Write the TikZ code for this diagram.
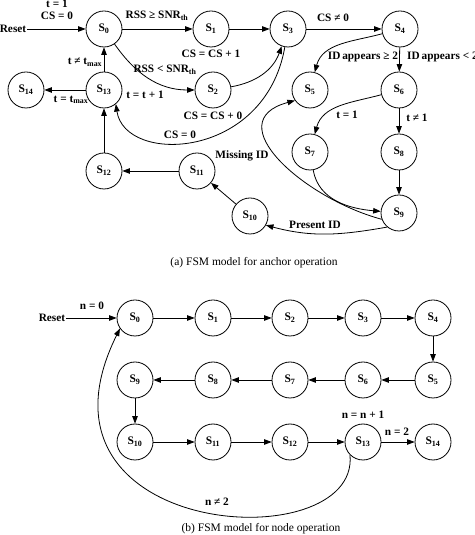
\documentclass[tikz,border=0pt]{standalone}
\usepackage{fontspec}
\setmainfont{Liberation Serif}
\usetikzlibrary{arrows.meta}

\begin{document}
\begin{tikzpicture}[
      x=1pt,y=1pt,
      state/.style={draw, circle, minimum size=36pt, inner sep=0pt, line width=0.8pt, font=\bfseries\fontsize{11.5}{12}\selectfont},
      trans/.style={draw, line width=0.8pt, -{Triangle[length=7.5pt,width=5.5pt]}},
      txt/.style={font=\bfseries\fontsize{11.3}{12}\selectfont, inner sep=1pt},
      caption/.style={font=\fontsize{11.5}{13}\selectfont}
    ]
      \useasboundingbox (0,0) rectangle (474,535);
      % (a) anchor operation
      \node[state] (a0) at (104,506) {S\textsubscript{0}};
      \node[state] (a1) at (211,506) {S\textsubscript{1}};
      \node[state] (a2) at (213,445) {S\textsubscript{2}};
      \node[state] (a3) at (288,506) {S\textsubscript{3}};
      \node[state] (a4) at (400,506) {S\textsubscript{4}};
      \node[state] (a5) at (310,445) {S\textsubscript{5}};
      \node[state] (a6) at (399,445) {S\textsubscript{6}};
      \node[state] (a7) at (310,383) {S\textsubscript{7}};
      \node[state] (a8) at (399,383) {S\textsubscript{8}};
      \node[state] (a9) at (399,322) {S\textsubscript{9}};
      \node[state] (a10) at (250,319) {S\textsubscript{10}};
      \node[state] (a11) at (197,364) {S\textsubscript{11}};
      \node[state] (a12) at (104,364) {S\textsubscript{12}};
      \node[state] (a13) at (104,445) {S\textsubscript{13}};
      \node[state] (a14) at (26,445) {S\textsubscript{14}};
      \node[txt] (reseta) at (13,506) {Reset};
      \node[txt, align=center] (inita) at (57,525) {t = 1\\CS = 0};
      \draw[trans] (reseta) -- (a0);
      \draw[trans] (a0) -- (a1);
      \draw[trans] (a1) -- (a3);
      \draw[trans] (a3) -- (a4);
      \draw[trans] (a4) -- (a6);
      \draw[trans] (a6) -- (a8);
      \draw[trans] (a8) -- (a9);
      \draw[trans] (a10) -- (a11);
      \draw[trans] (a11) -- (a12);
      \draw[trans] (a12) -- (a13);
      \draw[trans] (a13) -- (a0);
      \draw[trans] (a13) -- (a14);
      \draw[trans] (a0) to[out=-55,in=180] (a2);
      \draw[trans] (a2) to[out=10,in=-110] (a3);
      \draw[trans] (a3.-100) .. controls (265,375) and (125,370) .. (a13.-50);
      \draw[trans] (a4) to[out=195,in=75] (a5);
      \draw[trans] (a6) to[out=195,in=75] (a7);
      \draw[trans] (a7) to[out=-80,in=175] (a9);
      \draw[trans] (a9.200) to[out=165,in=195,looseness=1.4] (a5.215);
      \draw[trans] (a9.230) to[out=190,in=-15] (a10.-30);
      \node[txt] (rssge) at (157,519) {RSS ≥ SNR\textsubscript{th}};
      \node[txt] (csinc) at (211,481) {CS = CS + 1};
      \node[txt] (rsslt) at (165,465) {RSS < SNR\textsubscript{th}};
      \node[txt] (tne) at (85,473) {t ≠ t\textsubscript{max}};
      \node[txt] (tinc) at (145,440) {t = t + 1};
      \node[txt] (teq) at (71,435) {t = t\textsubscript{max}};
      \node[txt] (cszero) at (213,419) {CS = CS + 0};
      \node[txt] (csreset) at (180,400) {CS = 0};
      \node[txt] (csne) at (333,517) {CS ≠ 0};
      \node[txt] (idge) at (363,478) {ID\,appears ≥ 2};
      \node[txt, anchor=west] (idlt) at (406,478) {ID\,appears < 2};
      \node[txt] (tone) at (347,420) {t = 1};
      \node[txt] (tnone) at (417,417) {t ≠ 1};
      \node[txt] (missid) at (242,379) {Missing ID};
      \node[txt] (presid) at (315,310) {Present ID};
      \node[caption] (capa) at (254,272) {(a) FSM model for anchor operation};
      % (b) node operation
      \node[state] (b0) at (135,217) {S\textsubscript{0}};
      \node[state] (b1) at (213,217) {S\textsubscript{1}};
      \node[state] (b2) at (290,217) {S\textsubscript{2}};
      \node[state] (b3) at (363,217) {S\textsubscript{3}};
      \node[state] (b4) at (433,217) {S\textsubscript{4}};
      \node[state] (b5) at (433,155) {S\textsubscript{5}};
      \node[state] (b6) at (363,155) {S\textsubscript{6}};
      \node[state] (b7) at (290,155) {S\textsubscript{7}};
      \node[state] (b8) at (213,155) {S\textsubscript{8}};
      \node[state] (b9) at (135,155) {S\textsubscript{9}};
      \node[state] (b10) at (135,93) {S\textsubscript{10}};
      \node[state] (b11) at (213,93) {S\textsubscript{11}};
      \node[state] (b12) at (290,93) {S\textsubscript{12}};
      \node[state] (b13) at (363,93) {S\textsubscript{13}};
      \node[state] (b14) at (433,93) {S\textsubscript{14}};
      \node[txt] (resetb) at (52,217) {Reset};
      \node[txt] (nzero) at (92,229) {n = 0};
      \draw[trans] (resetb) -- (b0);
      \draw[trans] (b0) -- (b1);
      \draw[trans] (b1) -- (b2);
      \draw[trans] (b2) -- (b3);
      \draw[trans] (b3) -- (b4);
      \draw[trans] (b4) -- (b5);
      \draw[trans] (b5) -- (b6);
      \draw[trans] (b6) -- (b7);
      \draw[trans] (b7) -- (b8);
      \draw[trans] (b8) -- (b9);
      \draw[trans] (b9) -- (b10);
      \draw[trans] (b10) -- (b11);
      \draw[trans] (b11) -- (b12);
      \draw[trans] (b12) -- (b13);
      \draw[trans] (b13) -- (b14);
      \draw[trans] (b13.-135) .. controls (360,-25) and (15,-5) .. (b0.-145);
      \node[txt] (ninc) at (363,120) {n = n + 1};
      \node[txt] (ntwo) at (397,103) {n = 2};
      \node[txt] (nnot) at (217,33) {n ≠ 2};
      \node[caption] (capb) at (261,6) {(b) FSM model for node operation};
    \end{tikzpicture}
\end{document}
